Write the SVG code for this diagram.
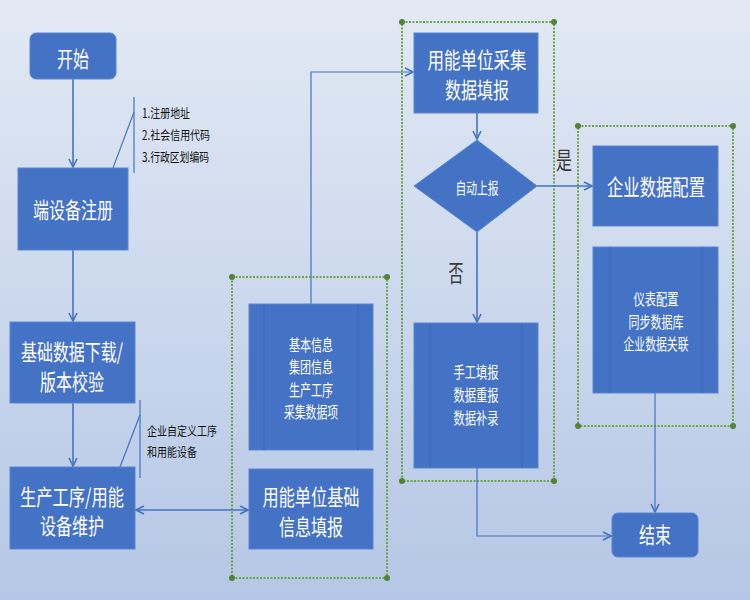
<svg xmlns="http://www.w3.org/2000/svg" width="750" height="600" viewBox="0 0 750 600">
<defs>
<linearGradient id="bg" x1="0" y1="0" x2="0" y2="1">
<stop offset="0" stop-color="#e2e9f4"/>
<stop offset="1" stop-color="#b5c7e6"/>
</linearGradient>
<marker id="ah" viewBox="0 0 10 10" refX="9" refY="5" markerWidth="10" markerHeight="10" markerUnits="userSpaceOnUse" orient="auto-start-reverse">
<path d="M1,1 L9,5 L1,9" fill="none" stroke="#4472c4" stroke-width="1.6"/>
</marker>
</defs>
<style>
.box{fill:#4472c4;stroke:#5a86cf;stroke-width:1}
.inner{stroke:#3b66b3;stroke-width:1}
.big{font-family:"Noto Sans CJK SC","Liberation Sans",sans-serif;font-size:22px;fill:#fff;text-anchor:middle}
.mid{font-family:"Noto Sans CJK SC","Liberation Sans",sans-serif;font-size:16px;fill:#fff;text-anchor:middle}
.note{font-family:"Noto Sans CJK SC","Liberation Sans",sans-serif;font-size:12.5px;fill:#111}
.lab{font-family:"Noto Sans CJK SC","Liberation Sans",sans-serif;font-size:24px;fill:#3a3a3a;text-anchor:middle}
.conn{fill:none;stroke:#4472c4;stroke-width:1.6}
.thin{fill:none;stroke:#4472c4;stroke-width:1.2}
.grp{fill:none;stroke:#6ea544;stroke-width:2;stroke-dasharray:2 1.5}
.dot{fill:#548235}
</style>
<rect width="750" height="600" fill="url(#bg)"/>

<g id="groups">
<rect class="grp" x="232" y="277" width="155" height="301"/>
<circle class="dot" cx="232" cy="277" r="3"/><circle class="dot" cx="387" cy="277" r="3"/><circle class="dot" cx="232" cy="578" r="3"/><circle class="dot" cx="387" cy="578" r="3"/>
<rect class="grp" x="402" y="22" width="152" height="459"/>
<circle class="dot" cx="402" cy="22" r="3"/><circle class="dot" cx="554" cy="22" r="3"/><circle class="dot" cx="402" cy="481" r="3"/><circle class="dot" cx="554" cy="481" r="3"/>
<rect class="grp" x="578" y="126" width="155" height="300"/>
<circle class="dot" cx="578" cy="126" r="3"/><circle class="dot" cx="733" cy="126" r="3"/><circle class="dot" cx="578" cy="426" r="3"/><circle class="dot" cx="733" cy="426" r="3"/>
</g>

<g id="connectors">
<line class="conn" x1="73" y1="79" x2="73" y2="167" marker-end="url(#ah)"/>
<line class="conn" x1="73" y1="250" x2="73" y2="321" marker-end="url(#ah)"/>
<line class="conn" x1="73" y1="403" x2="73" y2="466" marker-end="url(#ah)"/>
<line class="conn" x1="136" y1="510" x2="248" y2="510" marker-start="url(#ah)" marker-end="url(#ah)"/>
<polyline class="thin" points="311,304 311,72 413,72" marker-end="url(#ah)"/>
<line class="conn" x1="477" y1="113" x2="477" y2="139" marker-end="url(#ah)"/>
<line class="conn" x1="537" y1="186" x2="592" y2="186" marker-end="url(#ah)"/>
<line class="conn" x1="477" y1="232" x2="477" y2="322" marker-end="url(#ah)"/>
<polyline class="thin" points="477,468 477,536 611,536" marker-end="url(#ah)"/>
<line class="thin" x1="655" y1="393" x2="655" y2="512" marker-end="url(#ah)"/>
<line class="thin" x1="134" y1="97" x2="134" y2="173"/>
<line class="thin" x1="113" y1="168" x2="134" y2="112"/>
<line class="thin" x1="140" y1="400" x2="140" y2="478"/>
<line class="thin" x1="120" y1="467" x2="140" y2="415"/>
</g>

<g id="start">
<rect class="box" x="30" y="33" width="86" height="46" rx="6"/>
<text class="big" x="73" y="67" textLength="32" lengthAdjust="spacingAndGlyphs">开始</text>
</g>
<g id="register">
<rect class="box" x="18" y="168" width="110" height="82"/>
<text class="big" x="73" y="218" textLength="80" lengthAdjust="spacingAndGlyphs">端设备注册</text>
</g>
<g id="note1">
<text class="note" x="142" y="118" textLength="48" lengthAdjust="spacingAndGlyphs">1.注册地址</text>
<text class="note" x="142" y="140" textLength="68" lengthAdjust="spacingAndGlyphs">2.社会信用代码</text>
<text class="note" x="142" y="162" textLength="67" lengthAdjust="spacingAndGlyphs">3.行政区划编码</text>
</g>
<g id="download">
<rect class="box" x="10" y="322" width="125" height="81"/>
<text class="big" x="72" y="360" textLength="102" lengthAdjust="spacingAndGlyphs">基础数据下载/</text>
<text class="big" x="72" y="390" textLength="64" lengthAdjust="spacingAndGlyphs">版本校验</text>
</g>
<g id="maintain">
<rect class="box" x="10" y="467" width="125" height="82"/>
<text class="big" x="72" y="505" textLength="104" lengthAdjust="spacingAndGlyphs">生产工序/用能</text>
<text class="big" x="72" y="534" textLength="64" lengthAdjust="spacingAndGlyphs">设备维护</text>
</g>
<g id="note2">
<text class="note" x="147" y="436" textLength="70" lengthAdjust="spacingAndGlyphs">企业自定义工序</text>
<text class="note" x="147" y="457" textLength="50" lengthAdjust="spacingAndGlyphs">和用能设备</text>
</g>
<g id="baseinfo">
<rect class="box" x="249" y="304" width="124" height="146"/>
<line class="inner" x1="264" y1="304" x2="264" y2="450"/>
<line class="inner" x1="358" y1="304" x2="358" y2="450"/>
<text class="mid" x="311" y="351" textLength="44" lengthAdjust="spacingAndGlyphs">基本信息</text>
<text class="mid" x="311" y="373" textLength="44" lengthAdjust="spacingAndGlyphs">集团信息</text>
<text class="mid" x="311" y="396" textLength="44" lengthAdjust="spacingAndGlyphs">生产工序</text>
<text class="mid" x="311" y="418" textLength="54" lengthAdjust="spacingAndGlyphs">采集数据项</text>
</g>
<g id="basefill">
<rect class="box" x="249" y="469" width="124" height="80"/>
<text class="big" x="311" y="505" textLength="97" lengthAdjust="spacingAndGlyphs">用能单位基础</text>
<text class="big" x="311" y="535" textLength="64" lengthAdjust="spacingAndGlyphs">信息填报</text>
</g>
<g id="collect">
<rect class="box" x="414" y="33" width="124" height="80"/>
<text class="big" x="477" y="68" textLength="99" lengthAdjust="spacingAndGlyphs">用能单位采集</text>
<text class="big" x="477" y="98" textLength="64" lengthAdjust="spacingAndGlyphs">数据填报</text>
</g>
<g id="auto">
<polygon class="box" points="477,140 537,186 477,232 414,186"/>
<text class="mid" x="477" y="194" textLength="43" lengthAdjust="spacingAndGlyphs">自动上报</text>
</g>
<g id="yes"><text class="lab" x="564" y="169" textLength="16" lengthAdjust="spacingAndGlyphs">是</text></g>
<g id="no"><text class="lab" x="456" y="282" textLength="15" lengthAdjust="spacingAndGlyphs">否</text></g>
<g id="manual">
<rect class="box" x="414" y="323" width="124" height="145"/>
<line class="inner" x1="430" y1="323" x2="430" y2="468"/>
<line class="inner" x1="522" y1="323" x2="522" y2="468"/>
<text class="mid" x="476" y="378" textLength="45" lengthAdjust="spacingAndGlyphs">手工填报</text>
<text class="mid" x="476" y="401" textLength="45" lengthAdjust="spacingAndGlyphs">数据重报</text>
<text class="mid" x="476" y="424" textLength="45" lengthAdjust="spacingAndGlyphs">数据补录</text>
</g>
<g id="entconf">
<rect class="box" x="593" y="146" width="125" height="80"/>
<text class="big" x="656" y="195" textLength="98" lengthAdjust="spacingAndGlyphs">企业数据配置</text>
</g>
<g id="meter">
<rect class="box" x="593" y="247" width="125" height="146"/>
<line class="inner" x1="610" y1="247" x2="610" y2="393"/>
<line class="inner" x1="702" y1="247" x2="702" y2="393"/>
<text class="mid" x="656" y="305" textLength="45" lengthAdjust="spacingAndGlyphs">仪表配置</text>
<text class="mid" x="656" y="328" textLength="55" lengthAdjust="spacingAndGlyphs">同步数据库</text>
<text class="mid" x="656" y="350" textLength="65" lengthAdjust="spacingAndGlyphs">企业数据关联</text>
</g>
<g id="end">
<rect class="box" x="612" y="513" width="86" height="44" rx="6"/>
<text class="big" x="655" y="543" textLength="32" lengthAdjust="spacingAndGlyphs">结束</text>
</g>
</svg>
